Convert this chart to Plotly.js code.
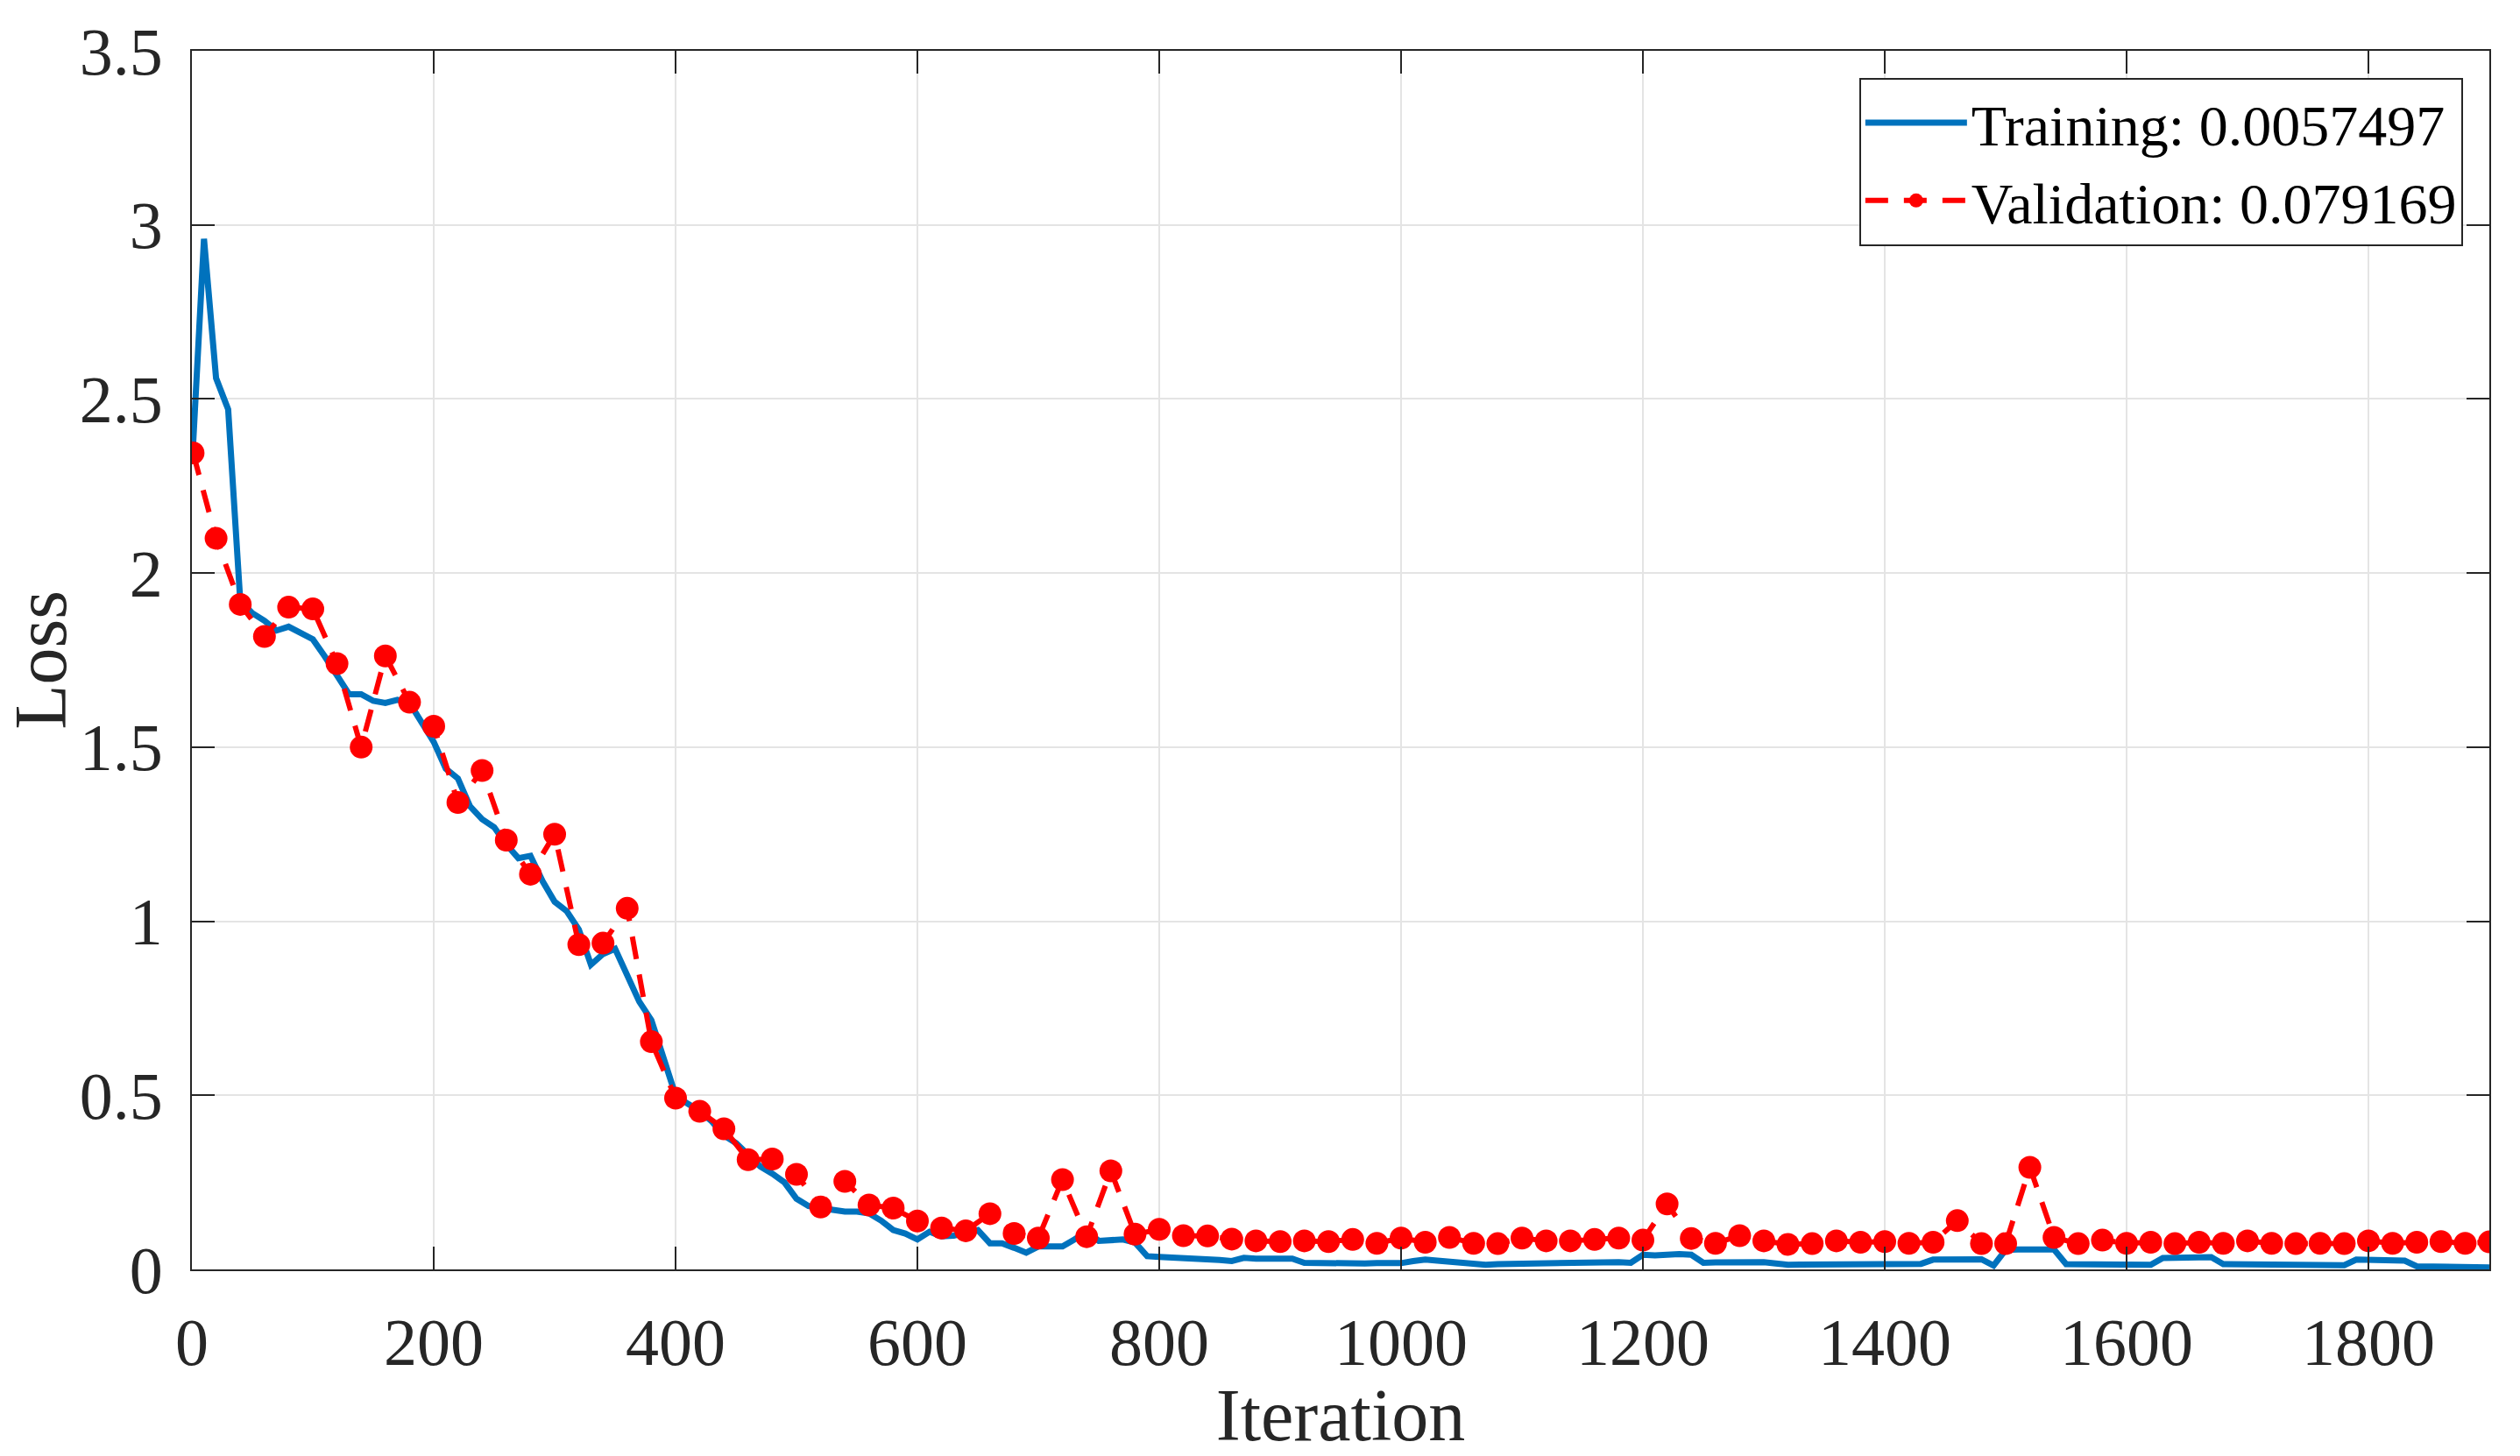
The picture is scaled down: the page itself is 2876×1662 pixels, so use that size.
<!DOCTYPE html>
<html>
<head>
<meta charset="utf-8">
<script src="https://cdn.plot.ly/plotly-3.0.1.min.js"></script>
<style>
  html, body { margin: 0; padding: 0; background: #ffffff; }
  #chart { width: 2876px; height: 1662px; }
</style>
</head>
<body>
<div id="chart"></div>
<script>
// ---- data ----
const trainIter = [1,10,20,30,40,50,60,70,80,90,100,110,120,130,140,150,160,170,180,190,
  200,210,220,230,240,250,260,270,280,290,300,310,320,330,340,350,360,370,380,390,
  400,410,420,430,440,450,460,470,480,490,500,510,520,530,540,550,560,570,580,590,
  600,610,620,630,640,650,660,670,680,690,700,710,720,730,740,750,760,770,780,790,
  800,810,820,830,840,850,860,870,880,890,900,910,920,930,940,950,960,970,980,990,
  1000,1010,1020,1030,1040,1050,1060,1070,1080,1090,1100,1110,1120,1130,1140,1150,1160,1170,1180,1190,
  1200,1210,1220,1230,1240,1250,1260,1270,1280,1290,1300,1310,1320,1330,1340,1350,1360,1370,1380,1390,
  1400,1410,1420,1430,1440,1450,1460,1470,1480,1490,1500,1510,1520,1530,1540,1550,1560,1570,1580,1590,
  1600,1610,1620,1630,1640,1650,1660,1670,1680,1690,1700,1710,1720,1730,1740,1750,1760,1770,1780,1790,
  1800,1810,1820,1830,1840,1850,1860,1870,1880,1890,1900];
const trainLoss = [2.37,2.96,2.56,2.47,1.92,1.885,1.863,1.835,1.846,1.83,1.81,1.76,1.705,1.652,1.652,1.633,1.627,1.636,1.627,1.57,
  1.515,1.438,1.41,1.33,1.293,1.27,1.221,1.181,1.188,1.115,1.056,1.029,0.976,0.875,0.906,0.921,0.846,0.769,0.716,0.606,
  0.50,0.476,0.455,0.425,0.385,0.363,0.329,0.296,0.275,0.25,0.203,0.182,0.176,0.170,0.166,0.166,0.161,0.14,0.113,0.103,
  0.086,0.108,0.095,0.097,0.105,0.113,0.075,0.075,0.062,0.048,0.066,0.066,0.066,0.086,0.108,0.082,0.084,0.086,0.077,0.038,
  0.036,0.035,0.034,0.030,0.028,0.027,0.024,0.033,0.031,0.031,0.031,0.031,0.019,0.018,0.018,0.018,0.017,0.017,0.018,0.018,
  0.018,0.024,0.028,0.025,0.022,0.021,0.017,0.013,0.015,0.016,0.016,0.017,0.018,0.018,0.019,0.020,0.022,0.023,0.021,0.019,
  0.042,0.040,0.043,0.044,0.042,0.019,0.020,0.021,0.022,0.023,0.021,0.017,0.013,0.014,0.014,0.015,0.015,0.016,0.018,0.017,
  0.015,0.015,0.015,0.016,0.028,0.029,0.029,0.029,0.029,0.011,0.056,0.057,0.057,0.058,0.057,0.015,0.015,0.015,0.016,0.015,
  0.015,0.014,0.013,0.033,0.034,0.034,0.035,0.035,0.015,0.015,0.015,0.014,0.012,0.011,0.011,0.011,0.011,0.011,0.012,0.028,
  0.028,0.028,0.028,0.025,0.009,0.008,0.008,0.007,0.007,0.006,0.0057];

const valIter = [1,20,40,60,80,100,120,140,160,180,200,220,240,260,280,300,320,340,360,380,
  400,420,440,460,480,500,520,540,560,580,600,620,640,660,680,700,720,740,760,780,
  800,820,840,860,880,900,920,940,960,980,1000,1020,1040,1060,1080,1100,1120,1140,1160,1180,
  1200,1220,1240,1260,1280,1300,1320,1340,1360,1380,1400,1420,1440,1460,1480,1500,1520,1540,1560,1580,
  1600,1620,1640,1660,1680,1700,1720,1740,1760,1780,1800,1820,1840,1860,1880,1900];
const valLoss = [2.345,2.10,1.91,1.818,1.902,1.897,1.74,1.50,1.762,1.629,1.56,1.341,1.433,1.233,1.135,1.25,0.933,0.937,1.037,0.654,
  0.492,0.454,0.404,0.315,0.317,0.273,0.179,0.253,0.185,0.176,0.139,0.119,0.111,0.16,0.103,0.09,0.258,0.094,0.283,0.101,
  0.115,0.097,0.096,0.087,0.082,0.080,0.082,0.080,0.086,0.075,0.090,0.078,0.092,0.075,0.074,0.090,0.082,0.082,0.086,0.090,
  0.084,0.188,0.089,0.075,0.097,0.082,0.072,0.074,0.082,0.078,0.080,0.075,0.078,0.140,0.074,0.074,0.293,0.092,0.074,0.084,
  0.075,0.078,0.074,0.078,0.075,0.082,0.075,0.074,0.075,0.074,0.082,0.075,0.078,0.080,0.075,0.079];

const trainName = 'Training: 0.0057497';
const valName = 'Validation: 0.079169';
const xTicks = [0,200,400,600,800,1000,1200,1400,1600,1800];
const yTicks = [0,0.5,1,1.5,2,2.5,3,3.5];

// ---- chart ----
const FONT = '"Liberation Serif", "Times New Roman", serif';
const INK = '#262626';

const traces = [
  {
    x: trainIter, y: trainLoss, name: trainName, type: 'scatter', mode: 'lines',
    line: { color: '#0072BD', width: 7 }
  },
  {
    x: valIter, y: valLoss, name: valName, type: 'scatter', mode: 'lines+markers',
    line: { color: '#FF0000', width: 6, dash: '26px,18px' },
    marker: { color: '#FF0000', size: 26, line: { width: 0 } }
  }
];

const axisCommon = {
  showline: true, linecolor: INK, linewidth: 2, mirror: 'ticks',
  ticks: 'inside', ticklen: 26, tickwidth: 2, tickcolor: INK,
  showgrid: true, gridcolor: '#e4e4e4', gridwidth: 2,
  zeroline: false, automargin: false,
  tickfont: { family: FONT, size: 76, color: INK }
};

const layout = {
  width: 2876, height: 1662,
  margin: { l: 219, r: 35, t: 58, b: 213 },
  paper_bgcolor: '#ffffff', plot_bgcolor: '#ffffff',
  font: { family: FONT, color: INK },
  showlegend: true,
  xaxis: Object.assign({}, axisCommon, {
    range: [0, 1900], tickvals: xTicks, ticklabelstandoff: 16,
    title: { text: 'Iteration', font: { family: FONT, size: 84, color: INK }, standoff: 18 }
  }),
  yaxis: Object.assign({}, axisCommon, {
    range: [0, 3.5], tickvals: yTicks, ticklabelstandoff: 16,
    title: { text: 'Loss', font: { family: FONT, size: 84, color: INK }, standoff: 30 }
  }),
  legend: {
    x: 0.9885, xanchor: 'right', y: 0.978, yanchor: 'top',
    bgcolor: '#ffffff', bordercolor: INK, borderwidth: 2,
    font: { family: FONT, size: 66, color: '#000000' },
    itemwidth: 116, tracegroupgap: 0
  }
};

Plotly.newPlot('chart', traces, layout, { staticPlot: true, displayModeBar: false });
</script>
</body>
</html>
